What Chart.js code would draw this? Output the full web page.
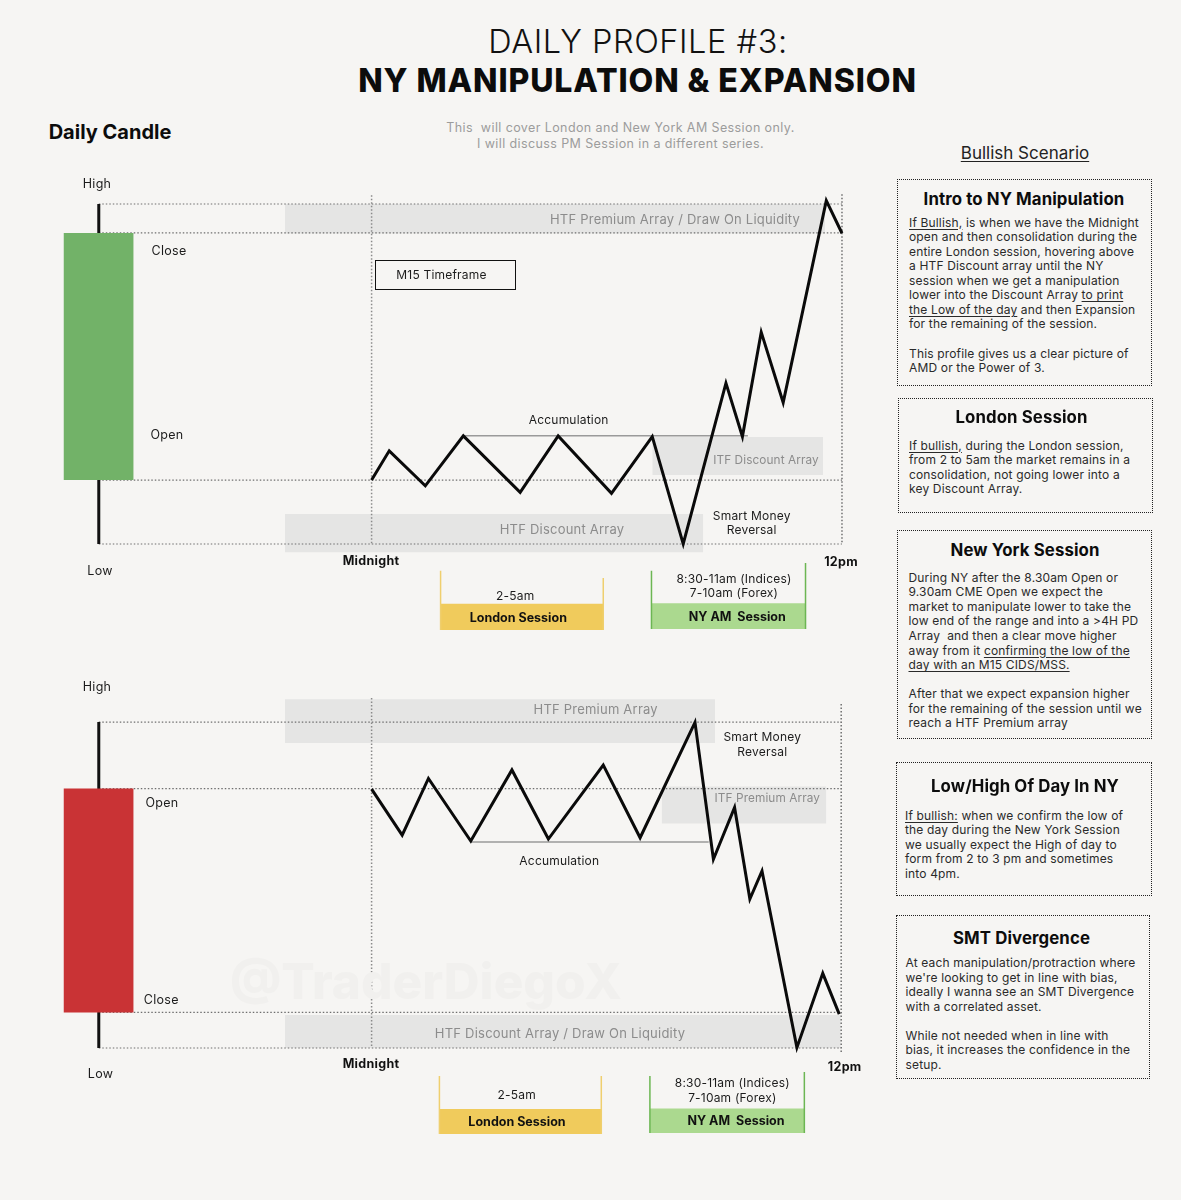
<!DOCTYPE html>
<html>
<head>
<meta charset="utf-8">
<title>Daily Profile #3</title>
<script src="https://cdn.jsdelivr.net/npm/chart.js@4"></script>
<style>
    html, body { margin: 0; padding: 0; background: #f6f5f3; }
    #page { position: relative; width: 1181px; height: 1200px; overflow: hidden; background: #f6f5f3; font-family: Inter, "Noto Sans", sans-serif; color: #1c1c1c; }
    canvas { position: absolute; left: 0; }
    .t { position: absolute; transform: translate(-50%, -50%); white-space: nowrap; text-align: center; }
    .label { font-size: 12px; letter-spacing: 0.2px; }
    .ohlc { font-size: 12.5px; letter-spacing: 0.3px; }
    .zone { font-size: 13px; letter-spacing: 0.22px; color: #8c8c8c; }
    .zonesmall { font-size: 11.8px; letter-spacing: 0.1px; color: #8c8c8c; }
    .bold { font-size: 12.5px; font-weight: 700; letter-spacing: 0.3px; color: #111; }
    .sess { font-size: 12.5px; font-weight: 700; color: #111; }
    .head { font-weight: 700; color: #0c0c0c; }
    .title2 { font-size: 16.8px; letter-spacing: 0.1px; }
    .box { position: absolute; border: 1.5px dotted #222; box-sizing: border-box; }
    .body { position: absolute; font-size: 12px; line-height: 14.57px; white-space: nowrap; color: #2a2a2a; letter-spacing: 0.16px; }
    u { text-underline-offset: 2px; }
    #m15 { position: absolute; left: 375px; top: 260px; width: 141px; height: 30px; box-sizing: border-box; border: 1.8px solid #111; }
</style>
</head>
<body>
<div id="page">
    <canvas id="topChart" width="880" height="480" style="top:170px"></canvas>
    <canvas id="bottomChart" width="880" height="470" style="top:680px"></canvas>

    <div class="t" style="left:638px;top:41px;font-size:32.5px;letter-spacing:0.55px;font-weight:300;color:#111">DAILY PROFILE #3:</div>
    <div class="t head" style="left:637.5px;top:80px;font-size:32px;letter-spacing:0.9px;font-weight:800">NY MANIPULATION &amp; EXPANSION</div>
    <div class="t head" style="left:110px;top:131.5px;font-size:20px">Daily Candle</div>
    <div class="t" style="left:620.5px;top:127px;font-size:12.5px;letter-spacing:0.4px;color:#9c9c9c">This&nbsp; will cover London and New York AM Session only.</div>
    <div class="t" style="left:620.5px;top:143px;font-size:12.5px;letter-spacing:0.4px;color:#9c9c9c">I will discuss PM Session in a different series.</div>
    <div class="t" style="left:426px;top:981px;font-size:49.5px;font-weight:800;color:#f1f0ee">@TraderDiegoX</div>

    <div id="m15"></div>
    <div id="labels"></div>

    <div class="t" style="left:1025px;top:153px;font-size:17px;color:#222"><u>Bullish Scenario</u></div>

    <div class="box" style="left:897px;top:179px;width:255px;height:207px"></div>
    <div class="t head title2" style="left:1024px;top:199px">Intro to NY Manipulation</div>
    <div class="body" style="left:909px;top:215.5px"><u>If Bullish,</u> is when we have the Midnight<br>open and then consolidation during the<br>entire London session, hovering above<br>a HTF Discount array until the NY<br>session when we get a manipulation<br>lower into the Discount Array <u>to print</u><br><u>the Low of the day</u> and then Expansion<br>for the remaining of the session.<br><br>This profile gives us a clear picture of<br>AMD or the Power of 3.</div>

    <div class="box" style="left:898px;top:398px;width:255px;height:115px"></div>
    <div class="t head title2" style="left:1021.5px;top:417px">London Session</div>
    <div class="body" style="left:909px;top:438.5px"><u>If bullish,</u> during the London session,<br>from 2 to 5am the market remains in a<br>consolidation, not going lower into a<br>key Discount Array.</div>

    <div class="box" style="left:897px;top:530px;width:255px;height:209px"></div>
    <div class="t head title2" style="left:1025px;top:550px">New York Session</div>
    <div class="body" style="left:908.5px;top:570.7px">During NY after the 8.30am Open or<br>9.30am CME Open we expect the<br>market to manipulate lower to take the<br>low end of the range and into a &gt;4H PD<br>Array&nbsp; and then a clear move higher<br>away from it <u>confirming the low of the</u><br><u>day with an M15 CIDS/MSS.</u><br><br>After that we expect expansion higher<br>for the remaining of the session until we<br>reach a HTF Premium array</div>

    <div class="box" style="left:896px;top:762px;width:256px;height:134px"></div>
    <div class="t head title2" style="left:1025px;top:785.5px">Low/High Of Day In NY</div>
    <div class="body" style="left:905px;top:808.7px"><u>If bullish:</u> when we confirm the low of<br>the day during the New York Session<br>we usually expect the High of day to<br>form from 2 to 3 pm and sometimes<br>into 4pm.</div>

    <div class="box" style="left:896px;top:915px;width:254px;height:164px"></div>
    <div class="t head title2" style="left:1021.5px;top:937.5px">SMT Divergence</div>
    <div class="body" style="left:905.5px;top:956px">At each manipulation/protraction where<br>we're looking to get in line with bias,<br>ideally I wanna see an SMT Divergence<br>with a correlated asset.<br><br>While not needed when in line with<br>bias, it increases the confidence in the<br>setup.</div>
</div>

<script>
// x values are hours after midnight, y values are price with day low = 0 and day high = 100

// top panel: bullish day
const topHours = [0, 0.45, 1.37, 2.34, 3.79, 4.76, 6.12, 7.16, 7.95, 9.04, 9.46, 9.94, 10.5, 11.6, 12];
const topPrices = [18.8, 27.4, 17.1, 31.8, 15.2, 31.8, 14.9, 31.6, 0, 47.3, 31.6, 62.3, 41.6, 101, 91.4];
const topOHLC = [18.8, 100, 0, 91.5];
const topZoneStart = [-2.21, -2.21, 7.16];
const topZoneEnd = [11.57, 8.46, 11.52];
const topZoneLow = [91.3, -2.4, 20.3];
const topZoneHigh = [100, 8.8, 31.5];
const topAccumHours = [2.34, 9.6];
const topAccumPrice = 31.8;
const topSessionStart = [1.76, 7.14];
const topSessionEnd = [5.91, 11.07];
const topSessionLow = [-25.3, -25];
const topSessionHigh = [-17.6, -17.4];
const topBracketLeft = [-7.9, -7.9];
const topBracketRight = [-10, -5.6];

// bottom panel: bearish day
const bottomHours = [0, 0.78, 1.45, 2.53, 3.58, 4.51, 5.91, 6.85, 8.25, 8.72, 9.26, 9.65, 9.96, 10.85, 11.51, 11.93];
const bottomPrices = [79.4, 65.3, 82.7, 63.5, 85.3, 64.1, 86.8, 64.5, 99.9, 57.9, 73.8, 45.7, 54.3, 0.1, 22.9, 10.4];
const bottomOHLC = [79.6, 100, 0, 10.9];
const bottomZoneStart = [-2.21, 7.4, -2.21];
const bottomZoneEnd = [8.76, 11.6, 11.97];
const bottomZoneLow = [93.6, 68.9, 0];
const bottomZoneHigh = [107, 80.2, 10.1];
const bottomAccumHours = [2.53, 8.6];
const bottomAccumPrice = 63.2;
const bottomSessionStart = [1.73, 7.1];
const bottomSessionEnd = [5.86, 11.04];
const bottomSessionLow = [-26.4, -26.1];
const bottomSessionHigh = [-18.7, -18.6];
const bottomBracketLeft = [-8.6, -8.6];
const bottomBracketRight = [-8.6, -7.4];

const sessionFill = ['#f0cb5c', '#abd98f'];
const sessionEdge = ['#efcf6e', '#6cb653'];

const LABELS = [
    ['ohlc', 'High', 97, 183], ['ohlc', 'Close', 169, 250], ['ohlc', 'Open', 167, 434], ['ohlc', 'Low', 100, 569.5],
    ['bold', 'Midnight', 371, 560], ['bold', '12pm', 841, 561],
    ['label', 'M15 Timeframe', 441.5, 274],
    ['zone', 'HTF Premium Array / Draw On Liquidity', 675, 218.7],
    ['label', 'Accumulation', 568.7, 419.3],
    ['zonesmall', 'ITF Discount Array', 766, 460],
    ['zone', 'HTF Discount Array', 562, 529.3],
    ['label', 'Smart Money', 751.7, 515], ['label', 'Reversal', 751.7, 529.3],
    ['label', '2-5am', 515.3, 595], ['sess', 'London Session', 518.3, 617],
    ['label', '8:30-11am (Indices)', 734, 578], ['label', '7-10am (Forex)', 734, 592.3],
    ['sess', 'NY AM&nbsp; Session', 737.3, 616],

    ['ohlc', 'High', 97, 686], ['ohlc', 'Open', 162, 802.3], ['ohlc', 'Close', 161.3, 999.3], ['ohlc', 'Low', 100.5, 1073.3],
    ['bold', 'Midnight', 371, 1063.3], ['bold', '12pm', 844.7, 1065.7],
    ['zone', 'HTF Premium Array', 595.7, 709],
    ['label', 'Smart Money', 762.3, 736], ['label', 'Reversal', 762.3, 751],
    ['zonesmall', 'ITF Premium Array', 767.3, 798.3],
    ['label', 'Accumulation', 559.3, 860.3],
    ['zone', 'HTF Discount Array / Draw On Liquidity', 560, 1033],
    ['label', '2-5am', 516.7, 1094.3], ['sess', 'London Session', 517, 1121.3],
    ['label', '8:30-11am (Indices)', 732.3, 1082], ['label', '7-10am (Forex)', 732.3, 1097],
    ['sess', 'NY AM&nbsp; Session', 736, 1120]
];

const CANDLE_LEFT = -7.86;
const CANDLE_RIGHT = -6.07;
const CANDLE_MID = -6.96;

function segment(x0, y0, x1, y1, color, width, dash, order) {
    return {
        data: [{x: x0, y: y0}, {x: x1, y: y1}],
        borderColor: color,
        borderWidth: width,
        borderDash: dash || [],
        pointRadius: 0,
        fill: false,
        tension: 0,
        order: order
    };
}

function block(x0, x1, low, high, color, order) {
    return {
        data: [{x: x0, y: high}, {x: x1, y: high}],
        borderWidth: 0,
        backgroundColor: color,
        fill: {value: low},
        pointRadius: 0,
        tension: 0,
        order: order
    };
}

function buildDatasets(p) {
    const sets = [];
    const dots = [1.5, 2];
    const dotColor = '#6f6f6f';
    const [open, high, low, close] = p.ohlc;

    // grey arrays go underneath everything
    p.zoneStart.forEach((start, i) => {
        sets.push(block(start, p.zoneEnd[i], p.zoneLow[i], p.zoneHigh[i], '#e5e5e4', 9));
    });

    // open, high, low, close levels and the midnight / noon verticals
    const bodyTop = Math.max(open, close);
    const bodyBottom = Math.min(open, close);
    sets.push(segment(CANDLE_MID, high, p.endHour, high, dotColor, 1.2, dots, 7));
    sets.push(segment(CANDLE_MID, low, p.endHour, low, dotColor, 1.2, dots, 7));
    sets.push(segment(CANDLE_MID, bodyTop, p.endHour, bodyTop, dotColor, 1.2, dots, 7));
    sets.push(segment(CANDLE_MID, bodyBottom, p.endHour, bodyBottom, dotColor, 1.2, dots, 7));
    sets.push(segment(0, p.midnightTop, 0, low, '#8a8a8a', 1.5, dots, 7));
    sets.push(segment(p.endHour, p.noonTop, p.endHour, p.noonBottom, '#6f6f6f', 1.5, dots, 7));

    // daily candle
    sets.push(segment(CANDLE_MID, high, CANDLE_MID, low, '#111111', 3, [], 6));
    sets.push(block(CANDLE_LEFT, CANDLE_RIGHT, bodyBottom, bodyTop, p.candleColor, 5));

    // session bars with their brackets
    p.sessionStart.forEach((start, i) => {
        const end = p.sessionEnd[i];
        sets.push(block(start, end, p.sessionLow[i], p.sessionHigh[i], sessionFill[i], 5));
        sets.push(segment(start, p.bracketLeft[i], start, p.sessionLow[i], sessionEdge[i], 1.5, [], 4));
        sets.push(segment(end, p.bracketRight[i], end, p.sessionLow[i], sessionEdge[i], 1.5, [], 4));
    });

    // accumulation range and price path
    sets.push(segment(p.accumHours[0], p.accumPrice, p.accumHours[1], p.accumPrice, '#9a9a9a', 1.5, [], 3));
    sets.push({
        data: p.hours.map((h, i) => ({x: h, y: p.prices[i]})),
        borderColor: '#0a0a0a',
        borderWidth: 3,
        borderJoinStyle: 'miter',
        pointRadius: 0,
        fill: false,
        tension: 0,
        order: 1
    });
    return sets;
}

function drawPanel(id, p) {
    new Chart(document.getElementById(id).getContext('2d'), {
        type: 'line',
        data: {datasets: buildDatasets(p)},
        options: {
            responsive: false,
            animation: false,
            events: [],
            layout: {padding: 0},
            plugins: {legend: {display: false}, tooltip: {enabled: false}},
            scales: {
                x: {type: 'linear', display: false, min: -9.48, max: 12.97},
                y: {type: 'linear', display: false, min: p.yMin, max: p.yMax}
            }
        }
    });
}

drawPanel('topChart', {
    hours: topHours, prices: topPrices, ohlc: topOHLC, candleColor: '#72b268',
    zoneStart: topZoneStart, zoneEnd: topZoneEnd, zoneLow: topZoneLow, zoneHigh: topZoneHigh,
    accumHours: topAccumHours, accumPrice: topAccumPrice,
    sessionStart: topSessionStart, sessionEnd: topSessionEnd, sessionLow: topSessionLow, sessionHigh: topSessionHigh,
    bracketLeft: topBracketLeft, bracketRight: topBracketRight,
    endHour: 12, midnightTop: 102.6, noonTop: 102.9, noonBottom: 0,
    yMin: -31.18, yMax: 110
});

drawPanel('bottomChart', {
    hours: bottomHours, prices: bottomPrices, ohlc: bottomOHLC, candleColor: '#c93335',
    zoneStart: bottomZoneStart, zoneEnd: bottomZoneEnd, zoneLow: bottomZoneLow, zoneHigh: bottomZoneHigh,
    accumHours: bottomAccumHours, accumPrice: bottomAccumPrice,
    sessionStart: bottomSessionStart, sessionEnd: bottomSessionEnd, sessionLow: bottomSessionLow, sessionHigh: bottomSessionHigh,
    bracketLeft: bottomBracketLeft, bracketRight: bottomBracketRight,
    endHour: 11.98, midnightTop: 107.4, noonTop: 105.5, noonBottom: -1.2,
    yMin: -31.3, yMax: 112.9
});

const labelHost = document.getElementById('labels');
LABELS.forEach(([kind, text, x, y]) => {
    const el = document.createElement('div');
    el.className = 't ' + kind;
    el.innerHTML = text;
    el.style.left = x + 'px';
    el.style.top = y + 'px';
    labelHost.appendChild(el);
});
</script>
</body>
</html>
